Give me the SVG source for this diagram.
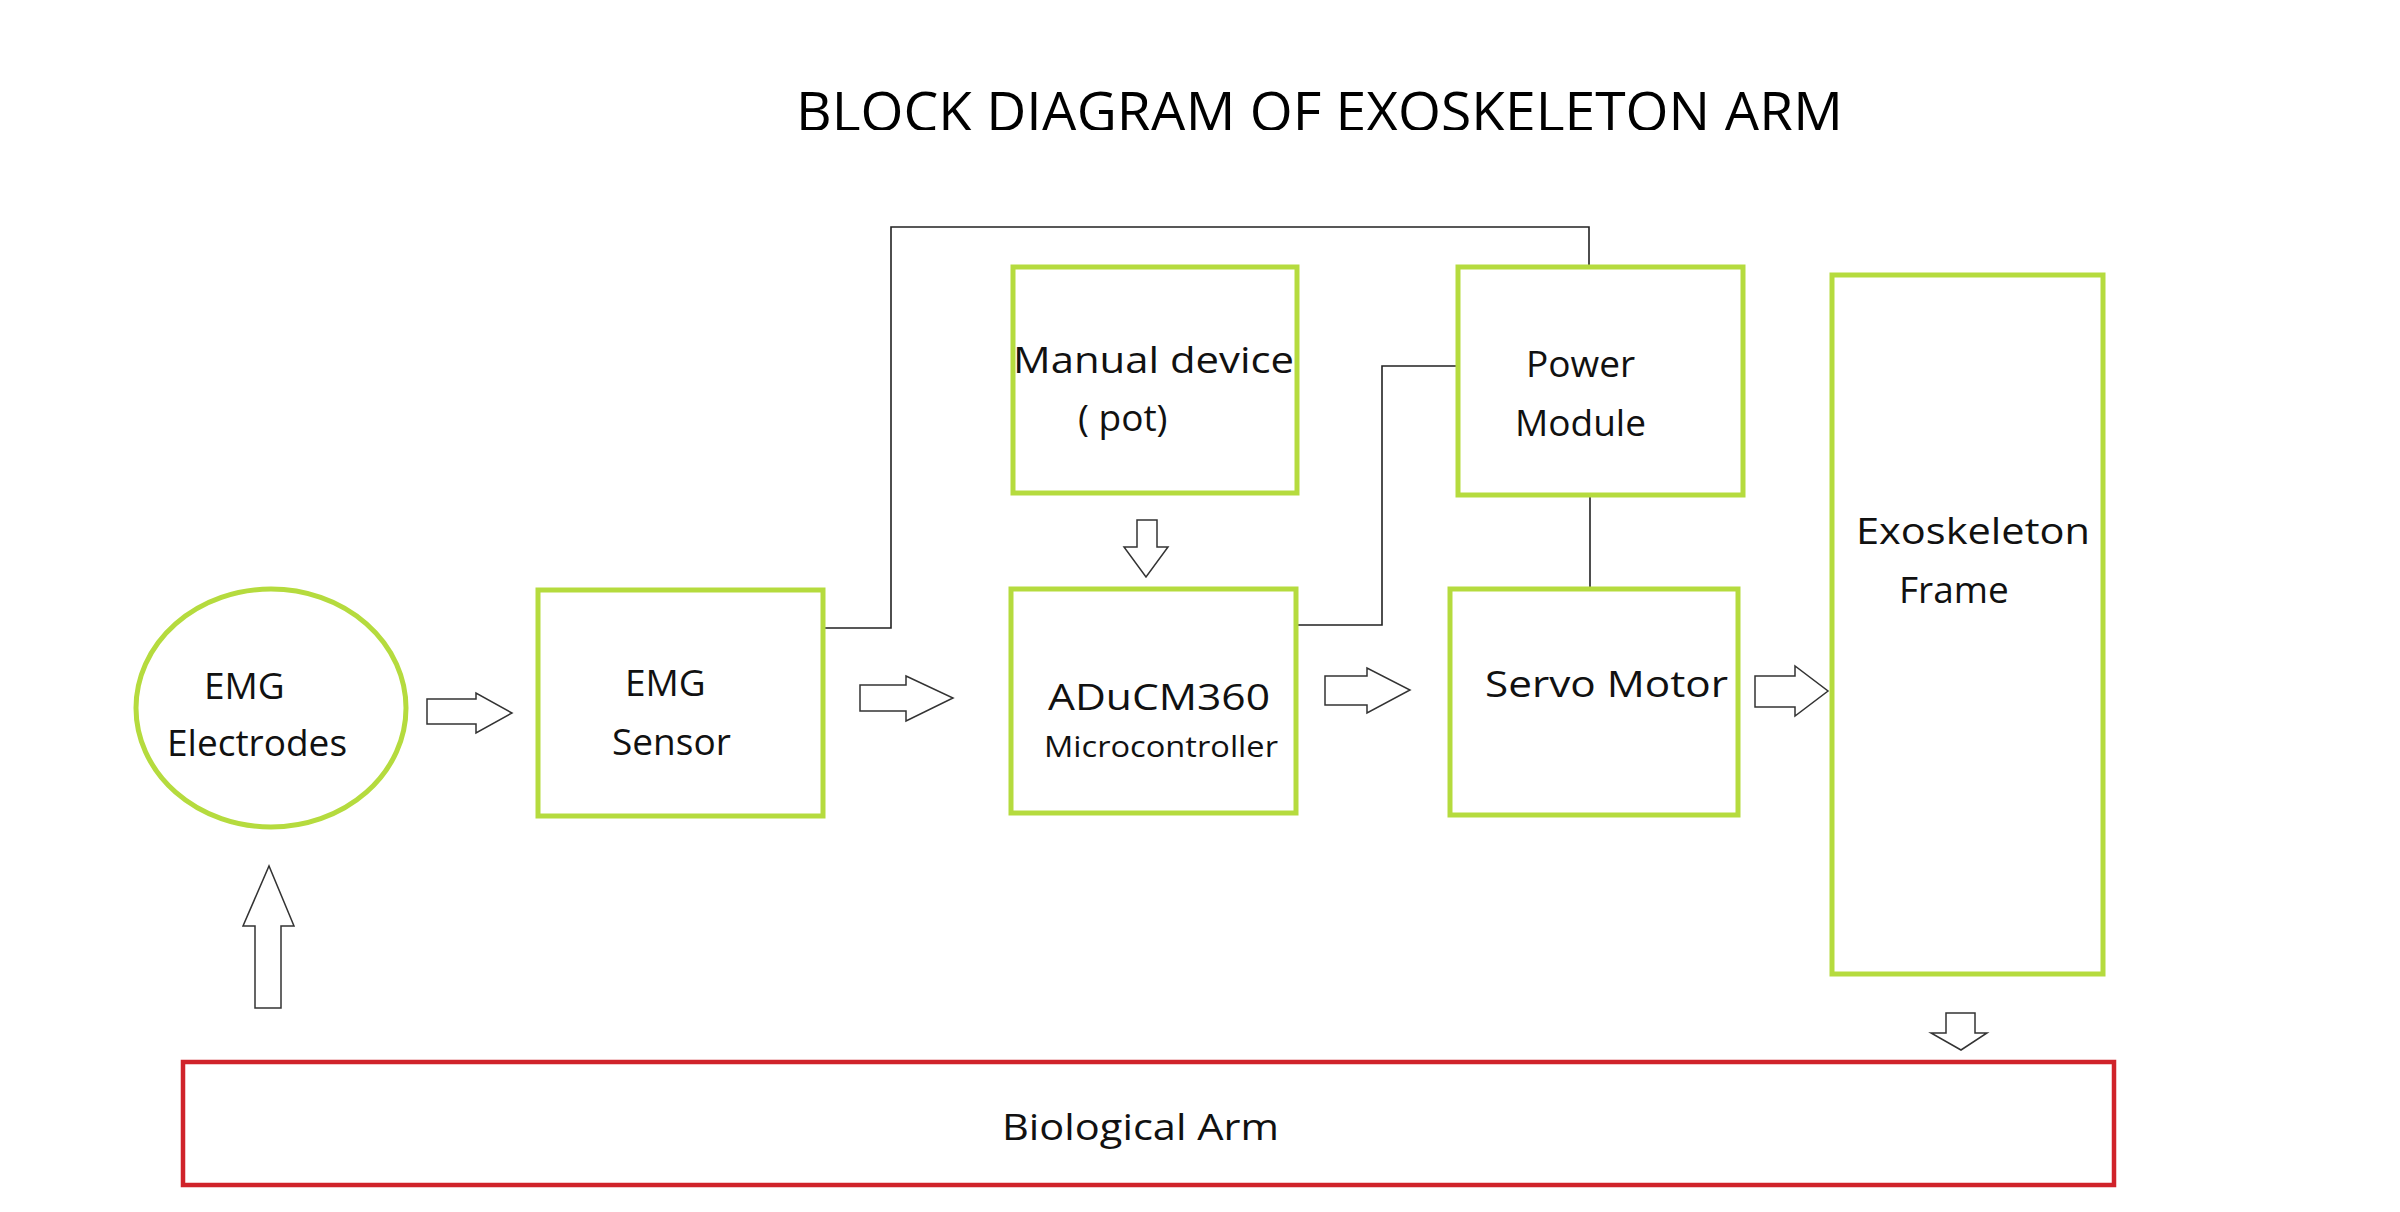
<svg xmlns="http://www.w3.org/2000/svg" width="2400" height="1212" viewBox="0 0 2400 1212">
<style>
.b{fill:#fff;stroke:#b5db3e;stroke-width:5}
.t{font-family:"Open Sans","Liberation Sans",sans-serif;font-size:37px;fill:#111}
.w{fill:none;stroke:#222;stroke-width:1.6}
.a{fill:#fff;stroke:#333;stroke-width:1.5}
</style>
<rect width="2400" height="1212" fill="#fff"/>
<text x="796" y="131" textLength="1047" lengthAdjust="spacingAndGlyphs" style="font-family:'Open Sans','Liberation Sans',sans-serif;font-size:54px;fill:#000">BLOCK DIAGRAM OF EXOSKELETON ARM</text>
<rect x="780" y="130" width="1100" height="20" fill="#fff"/>
<g id="connectors">
<polyline class="w" points="823,628 891,628 891,227 1589,227 1589,266"/>
<polyline class="w" points="1296,625 1382,625 1382,366 1457,366"/>
<line class="w" x1="1590" y1="495" x2="1590" y2="588"/>
<polygon class="a" points="427,699 476,699 476,693 512,713 476,733 476,724 427,724"/>
<polygon class="a" points="860,685 906,685 906,676 953,698 906,721 906,711 860,711"/>
<polygon class="a" points="1325,676 1367,676 1367,668 1410,690 1367,713 1367,705 1325,705"/>
<polygon class="a" points="1755,676 1795,676 1795,666 1828,691 1795,716 1795,707 1755,707"/>
<polygon class="a" points="1137,520 1157,520 1157,547 1168,547 1146,577 1124,547 1137,547"/>
<polygon class="a" points="255,1008 255,926 243,926 269,866 294,926 281,926 281,1008"/>
<polygon class="a" points="1946,1013 1975,1013 1975,1033 1987,1033 1961,1050 1931,1033 1946,1033"/>
</g>
<g id="emg-electrodes"><ellipse class="b" cx="271" cy="708" rx="135" ry="119"/><text class="t" x="204" y="699">EMG</text><text class="t" x="167" y="756">Electrodes</text></g>
<g id="emg-sensor"><rect class="b" x="538" y="590" width="285" height="226"/><text class="t" x="625" y="696">EMG</text><text class="t" x="612" y="755">Sensor</text></g>
<g id="manual-device"><rect class="b" x="1013" y="267" width="284" height="226"/><text class="t" x="1013" y="373" textLength="281" lengthAdjust="spacingAndGlyphs">Manual device</text><text class="t" x="1078" y="431">( pot)</text></g>
<g id="power-module"><rect class="b" x="1458" y="267" width="285" height="228"/><text class="t" x="1526" y="377">Power</text><text class="t" x="1515" y="436">Module</text></g>
<g id="aducm360"><rect class="b" x="1011" y="589" width="285" height="224"/><text class="t" x="1048" y="710" textLength="222" lengthAdjust="spacingAndGlyphs">ADuCM360</text><text class="t" x="1044" y="757" style="font-size:29px" textLength="234" lengthAdjust="spacingAndGlyphs">Microcontroller</text></g>
<g id="servo-motor"><rect class="b" x="1450" y="589" width="288" height="226"/><text class="t" x="1485" y="697" textLength="243" lengthAdjust="spacingAndGlyphs">Servo Motor</text></g>
<g id="exoskeleton-frame"><rect class="b" x="1832" y="275" width="271" height="699"/><text class="t" x="1856" y="544" textLength="234" lengthAdjust="spacingAndGlyphs">Exoskeleton</text><text class="t" x="1899" y="603">Frame</text></g>
<g id="biological-arm"><rect x="183" y="1062" width="1931" height="123" fill="#fff" stroke="#d0232a" stroke-width="4.5"/><text class="t" x="1002" y="1140" textLength="277" lengthAdjust="spacingAndGlyphs">Biological Arm</text></g>
</svg>
